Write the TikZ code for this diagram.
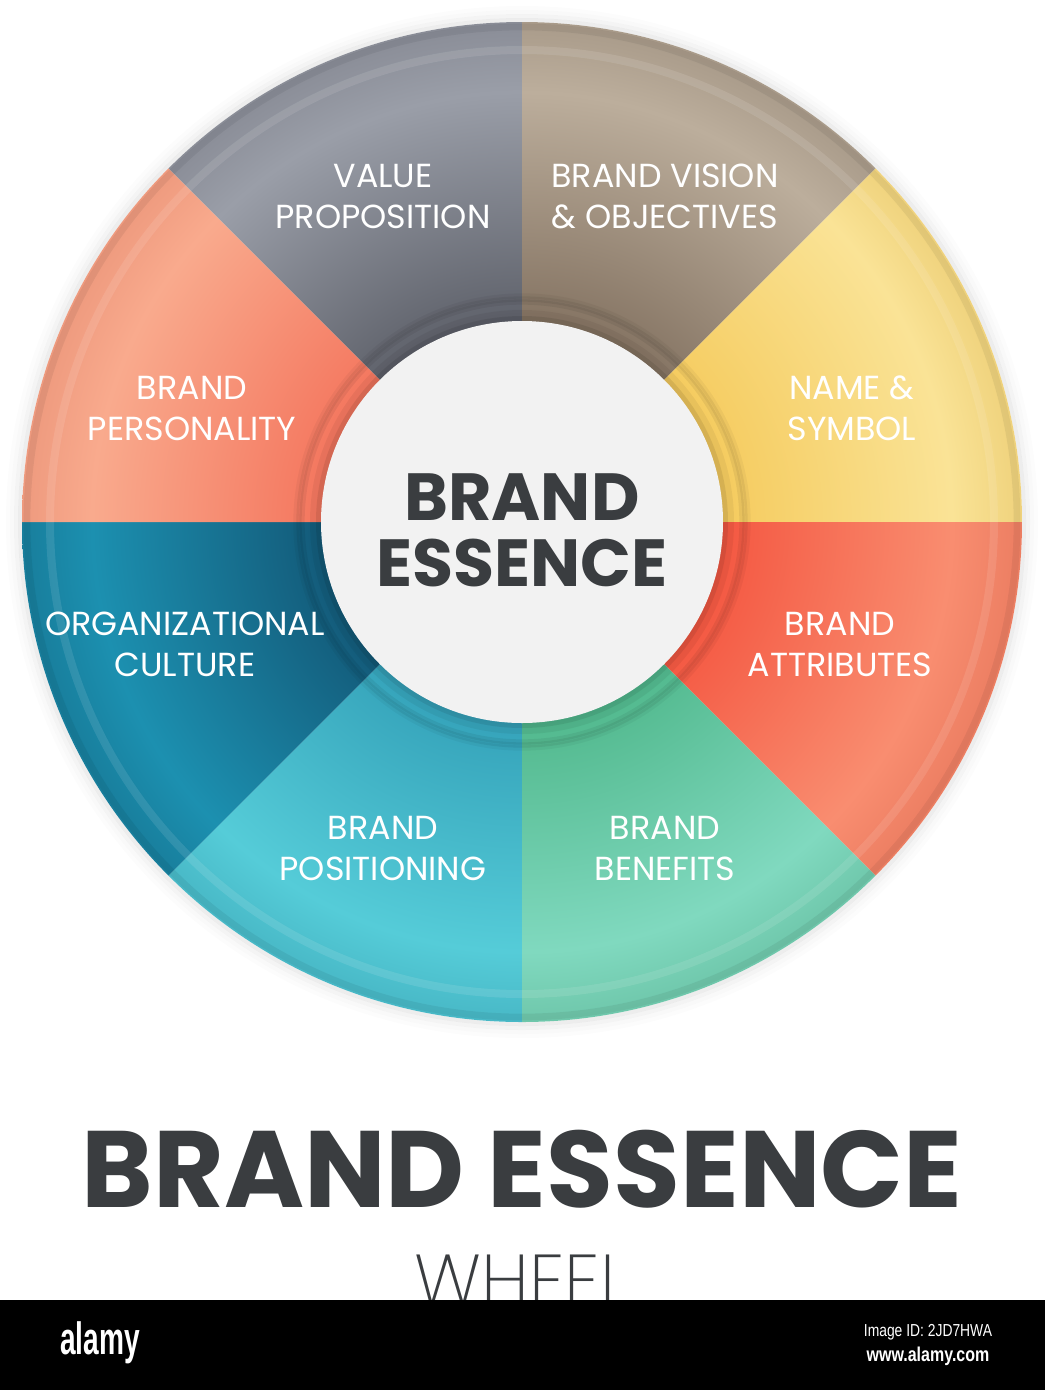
\documentclass[tikz,border=0pt]{standalone}
\usepackage{fontspec}
\setmainfont{Poppins}
\newfontfamily\thinfont{Poppins ExtraLight}
\newfontfamily\wmfont{Liberation Sans}
\definecolor{ink}{HTML}{3A3D40}
\definecolor{hubfill}{HTML}{F2F2F2}
\newcommand\mksect[4]{%
  \definecolor{#1A}{HTML}{#2}\definecolor{#1B}{HTML}{#3}\definecolor{#1C}{HTML}{#4}%
  \pgfdeclareradialshading{sh#1}{\pgfpointorigin}{%
    color(0bp)=(#1A); color(10bp)=(#1A); color(21.5bp)=(#1B);
    color(25bp)=(#1C); color(50bp)=(#1C)}}
\mksect{vp}{5F626B}{9A9EA8}{8A8D97}
\mksect{bv}{857463}{BCAE9C}{A99B8A}
\mksect{ns}{F5CB5E}{FAE396}{EFD27C}
\mksect{ba}{F45842}{F98D70}{EC7E62}
\mksect{bb}{52B98E}{80D9BF}{6FC7AB}
\mksect{bp}{35A3BA}{55CCD8}{48B8C6}
\mksect{oc}{135A79}{1C90B0}{187E9C}
\mksect{per}{F4765E}{F9AA8D}{EE9A7E}
\begin{document}
\begin{tikzpicture}[x=0.75pt,y=-0.75pt,
  lbl/.style={text=white, align=center, font=\fontsize{25}{30.75}\selectfont},
  hubtext/.style={text=ink, align=center, font=\bfseries\fontsize{50}{49.5}\selectfont}]
\useasboundingbox (0,0) rectangle (1045,1390);
\fill[white] (0,0) rectangle (1045,1390);
\begin{scope}[shift={(522,522)}, yscale=-1]
  % soft outer shadow
  \foreach \r/\o in {502/0.07, 506/0.045, 510/0.025, 514/0.012}
    \draw[black, opacity=\o, line width=3] (0,0) circle[radius=\r];
  % sectors
  \foreach \a/\c in {90/vp,45/bv,0/ns,-45/ba,-90/bb,-135/bp,180/oc,135/per}{
    \begin{scope}
      \clip (0,0) -- (\a:501) arc[start angle=\a, end angle=\a+45, radius=501] -- cycle;
      \shade[shading=sh\c] (0,0) circle[radius=500];
    \end{scope}
  }
  % rim
  \draw[white, opacity=0.10, line width=6] (0,0) circle[radius=472];
  \draw[black, opacity=0.06, line width=5] (0,0) circle[radius=495];
  % inner ring with soft shadow
  \foreach \r/\o in {226/0.04, 223/0.06, 220/0.06}
    \draw[black, opacity=\o, line width=4] (0,0) circle[radius=\r];
  \fill[black, opacity=0.05] (0,0) circle[radius=212];
  \fill[black, opacity=0.08] (0,0) circle[radius=206];
  \fill[hubfill] (0,0) circle[radius=201];
\end{scope}
% labels
\node[lbl] (vp)   at (383,196) {VALUE\\PROPOSITION};
\node[lbl] (bv)   at (665,196) {BRAND VISION\\\& OBJECTIVES};
\node[lbl] (ns)   at (852,408) {NAME \&\\SYMBOL};
\node[lbl] (ba)   at (840,644) {BRAND\\ATTRIBUTES};
\node[lbl] (bb)   at (665,848) {BRAND\\BENEFITS};
\node[lbl] (bp)   at (383,848) {BRAND\\POSITIONING};
\node[lbl] (oc)   at (185,644) {ORGANIZATIONAL\\CULTURE};
\node[lbl] (per)  at (192,408) {BRAND\\PERSONALITY};
\node[hubtext] (hub) at (522,530) {BRAND\\ESSENCE};
% title
\node[text=ink, font=\bfseries\fontsize{81.5}{81.5}\selectfont] (title) at (522,1169) {BRAND ESSENCE};
\node[text=ink, font=\thinfont\fontsize{54}{54}\selectfont] (sub) at (522,1280) {WHEEL};
% bottom bar
\fill[black] (0,1300) rectangle (1045,1390);
\node[text=white, font=\wmfont\bfseries\fontsize{34}{34}\selectfont] (logo) at (100,1343) {\scalebox{0.62}[1]{alamy}};
\node[text=white, font=\wmfont\fontsize{13}{13}\selectfont] (imgid) at (928,1332) {\scalebox{0.8}[1]{Image ID: 2JD7HWA}};
\node[text=white, font=\wmfont\bfseries\fontsize{15}{15}\selectfont] (url) at (928,1356) {\scalebox{0.8}[1]{www.alamy.com}};
\end{tikzpicture}
\end{document}
